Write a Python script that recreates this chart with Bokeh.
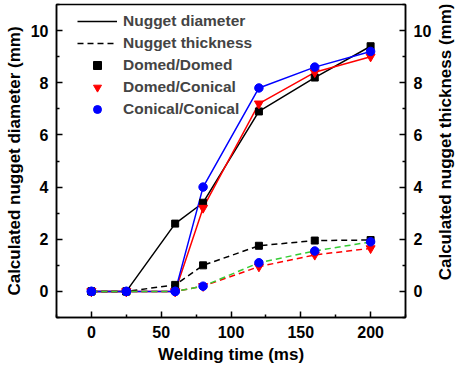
from bokeh.plotting import figure
from bokeh.models import LinearAxis, Range1d, Legend, LegendItem, FixedTicker
from bokeh.layouts import row
from bokeh.core.properties import value
from bokeh.embed import file_html
from bokeh.resources import INLINE
import math

# ---- data ----
time_ms = [0, 25, 60, 80, 120, 160, 200]
diam_dd = [0, 0, 2.6, 3.4, 6.9, 8.2, 9.4]
diam_dc = [0, 0, 0, 3.2, 7.2, 8.4, 9.0]
diam_cc = [0, 0, 0, 4.0, 7.8, 8.6, 9.2]
thick_dd = [0, 0, 0.25, 1.0, 1.75, 1.95, 1.97]
thick_dc = [0, 0, 0, 0.2, 0.95, 1.4, 1.65]
thick_cc = [0, 0, 0, 0.2, 1.1, 1.55, 1.9]
x_ticks = [0, 50, 100, 150, 200]
y_ticks = [0, 2, 4, 6, 8, 10]
right_title = "Calculated nugget thickness (mm)"

FONT = "Liberation Sans"
LABEL_SIZE = "17px"
BLACK, RED, BLUE, GREEN = "#000000", "#FF0000", "#0000FF", "#33CC33"

W, H = 458, 369
SIDE_W = 24
BL, BR, BT, BB = 56, 53, 4, 52

p = figure(width=W - SIDE_W, height=H, output_backend="svg", toolbar_location=None,
           x_range=Range1d(-25, 225), y_range=Range1d(-1, 11),
           min_border_left=BL, min_border_right=BR - SIDE_W, min_border_top=BT, min_border_bottom=BB)
p.grid.visible = False
p.outline_line_color = "black"
p.outline_line_width = 1.5
p.background_fill_color = "white"

def style_axis(ax):
    ax.axis_line_width = 1.5
    ax.major_tick_in = 6
    ax.major_tick_out = 0
    ax.minor_tick_in = 3
    ax.minor_tick_out = 0
    ax.major_tick_line_width = 1.5
    ax.minor_tick_line_width = 1.5
    ax.major_label_text_font = FONT
    ax.major_label_text_font_style = "bold"
    ax.major_label_text_font_size = "16px"
    ax.major_label_text_color = "black"
    ax.axis_label_text_font = FONT
    ax.axis_label_text_font_style = "bold"
    ax.axis_label_text_font_size = LABEL_SIZE
    ax.axis_label_text_color = "black"

p.xaxis.ticker = FixedTicker(ticks=x_ticks, minor_ticks=[-25, 25, 75, 125, 175, 225])
p.yaxis.ticker = FixedTicker(ticks=y_ticks, minor_ticks=[-1, 1, 3, 5, 7, 9, 11])
p.xaxis.axis_label = "Welding time (ms)"
p.yaxis.axis_label = "Calculated nugget diameter (mm)"
style_axis(p.xaxis[0])
style_axis(p.yaxis[0])
p.xaxis.major_label_standoff = 8
p.xaxis.axis_label_standoff = 4
p.yaxis.major_label_standoff = 8
p.yaxis.axis_label_standoff = 4

rax = LinearAxis(ticker=FixedTicker(ticks=y_ticks, minor_ticks=[-1, 1, 3, 5, 7, 9, 11]))
style_axis(rax)
rax.major_label_standoff = 8
p.add_layout(rax, "right")

# diameter lines (solid)
l_d = p.line(time_ms, diam_dd, line_color=BLACK, line_width=1.5)
p.line(time_ms, diam_dc, line_color=RED, line_width=1.5)
p.line(time_ms, diam_cc, line_color=BLUE, line_width=1.5)
# thickness lines (dashed)
l_t = p.line(time_ms, thick_dd, line_color=BLACK, line_width=1.5, line_dash="6 4")
p.line(time_ms, thick_dc, line_color=RED, line_width=1.5, line_dash="6 4")
p.line(time_ms, thick_cc, line_color=GREEN, line_width=1.5, line_dash="6 4")

# markers
m_dd = p.scatter(time_ms, diam_dd, marker="square", size=7, color=BLACK)
p.scatter(time_ms, thick_dd, marker="square", size=7, color=BLACK)
m_dc = p.scatter(time_ms, diam_dc, marker="inverted_triangle", size=9, color=RED)
p.scatter(time_ms, thick_dc, marker="inverted_triangle", size=9, color=RED)
m_cc = p.scatter(time_ms, diam_cc, marker="circle", size=8.5, color=BLUE)
p.scatter(time_ms, thick_cc, marker="circle", size=8.5, color=BLUE)

frame_h = H - BT - BB
leg_h = 2 * 6 + 5 * 20 + 4 * 2
legend = Legend(items=[
    LegendItem(label="Nugget diameter", renderers=[l_d]),
    LegendItem(label="Nugget thickness", renderers=[l_t]),
    LegendItem(label="Domed/Domed", renderers=[m_dd]),
    LegendItem(label="Domed/Conical", renderers=[m_dc]),
    LegendItem(label="Conical/Conical", renderers=[m_cc]),
], location=(15, frame_h - 1 - leg_h), margin=0, padding=6, spacing=2,
   glyph_width=40, glyph_height=20, label_height=20, label_standoff=6,
   label_text_font=FONT, label_text_font_style="bold", label_text_font_size="15.5px",
   border_line_alpha=0, background_fill_alpha=0)
p.add_layout(legend, "center")

# narrow side strip holding the right axis title (reads bottom-to-top)
side = figure(width=SIDE_W, height=H, output_backend="svg", toolbar_location=None,
              x_range=Range1d(0, SIDE_W), y_range=Range1d(0, H),
              x_axis_type=None, y_axis_type=None,
              min_border_left=0, min_border_right=0, min_border_top=0, min_border_bottom=0)
side.grid.visible = False
side.outline_line_color = None
side.text(x=[SIDE_W * 0.45], y=[H - 162], text=[right_title],
          angle=math.pi / 2, text_align="center", text_baseline="middle",
          text_font=value(FONT), text_font_style="bold", text_font_size=LABEL_SIZE,
          text_color="black")

layout = row(p, side, spacing=0)
open("out.html", "w").write(file_html(layout, INLINE))
